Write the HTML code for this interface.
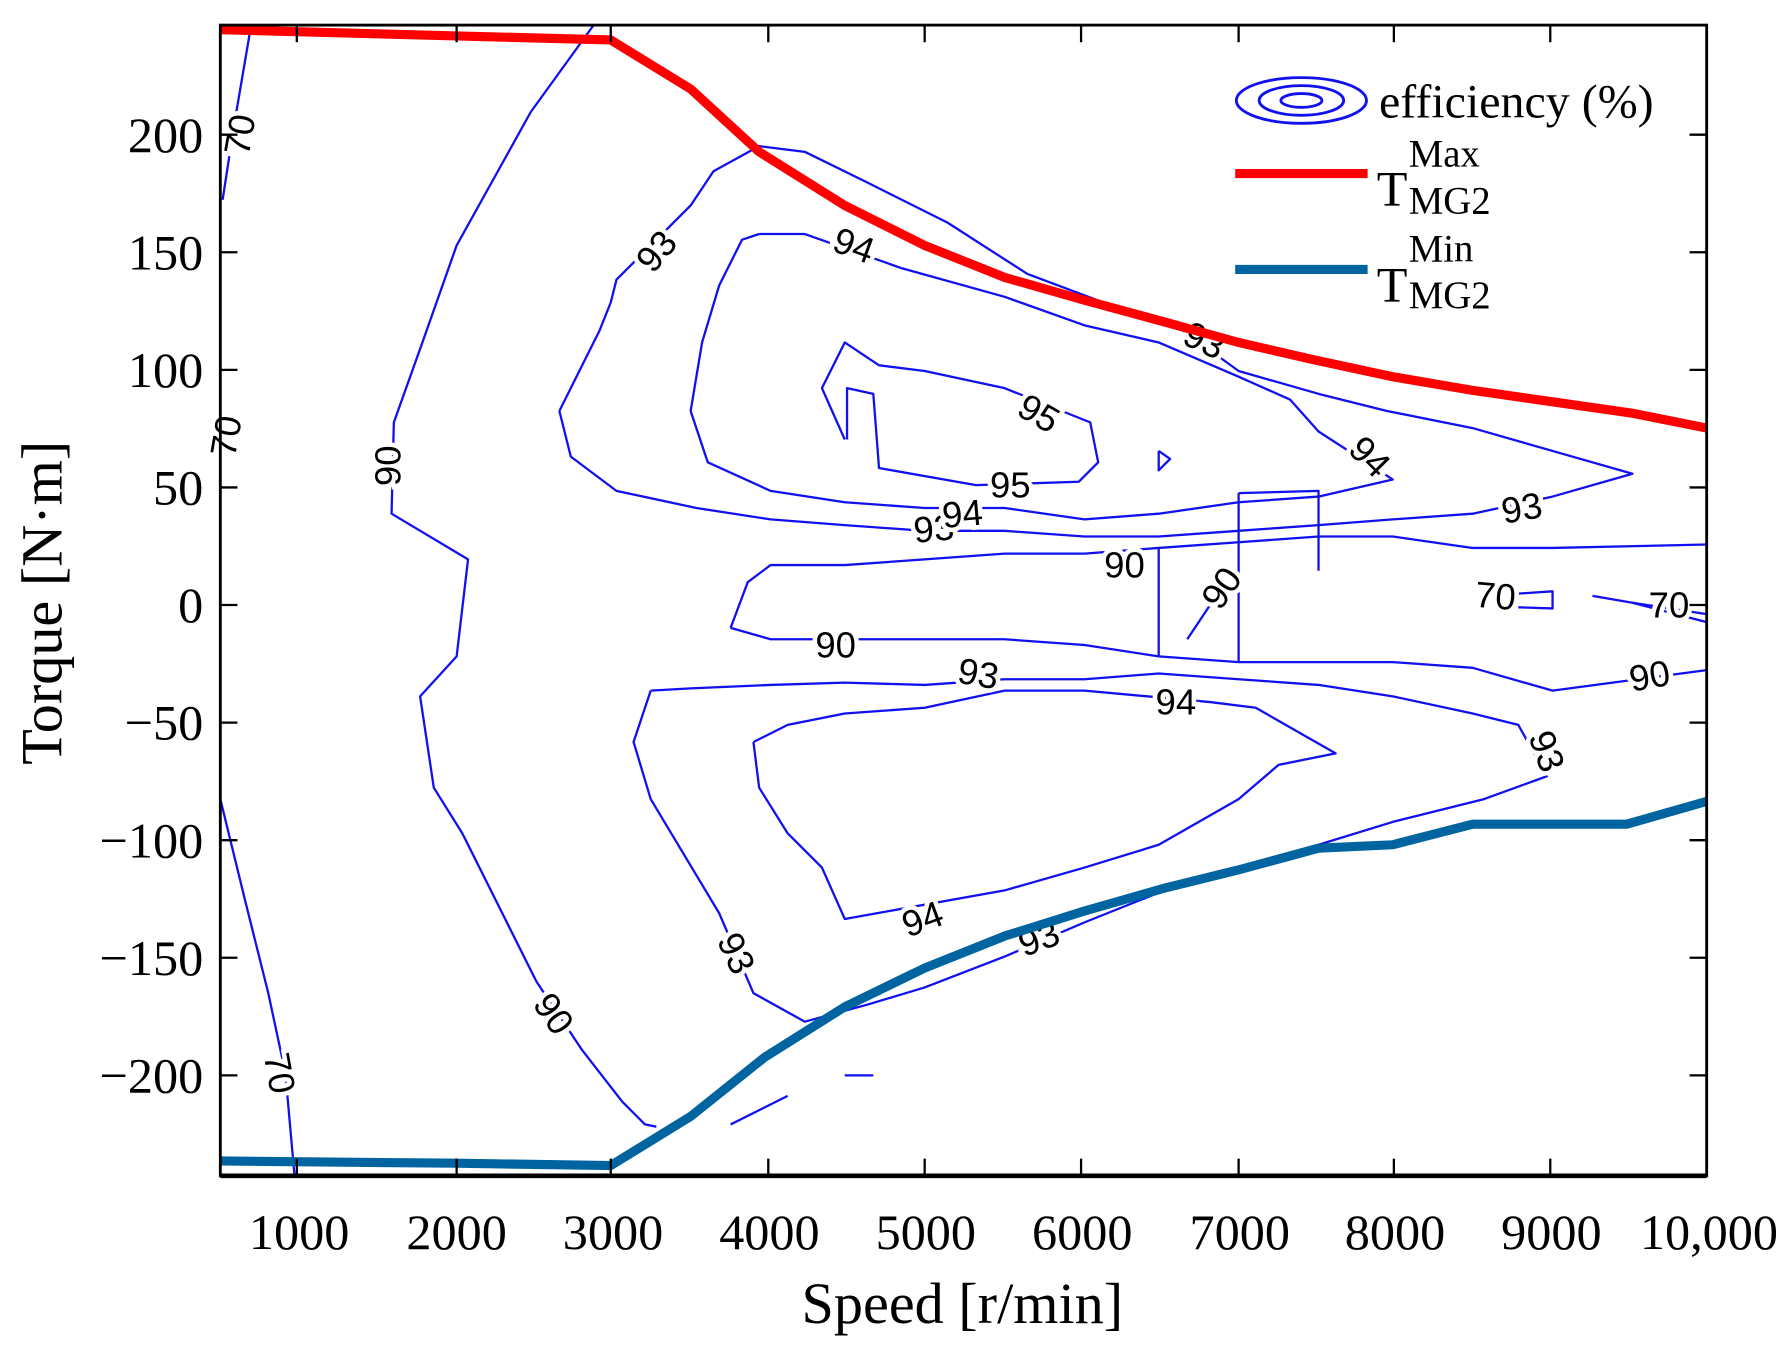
<!DOCTYPE html>
<html><head><meta charset="utf-8"><style>
html,body{margin:0;padding:0;background:#fff;}
svg{display:block;}
.tk{font-family:"Liberation Serif",serif;font-size:44px;fill:#000;}
.cl{font-family:"Liberation Sans",sans-serif;font-size:32px;fill:#000;}
.c{fill:none;stroke:#1010f0;stroke-width:2;stroke-linejoin:round;}
</style></head><body>
<svg width="1790" height="1350" viewBox="0 0 1568 1182.6" preserveAspectRatio="none" xmlns="http://www.w3.org/2000/svg">
<rect width="1568" height="1183" fill="#fff"/>
<polyline class="c" points="195,175 205,110 220,22"/>
<polyline class="c" points="193,700 215,790 235,870 250,940 258,1030"/>
<polyline class="c" points="520,22 465,98 400,215 370,300 345,370 343,450 410,490 400,575 368,610 380,690 405,730 440,800 470,860 510,920 545,965 565,985 575,987"/>
<polyline class="c" points="640,985 690,960"/>
<polyline class="c" points="740,942 765,942"/>
<polyline class="c" points="490,360 510,320 525,290 535,265 540,245 605,180 625,150 665,128 705,133 760,160 830,195 900,240 980,270 1030,285 1085,325 1155,345 1215,360 1290,375 1360,395 1430,415 1360,435 1290,450 1220,455 1155,460 1085,465 1015,470 950,470 880,465 810,465 740,460 675,455 610,445 540,430 500,400 490,360"/>
<polyline class="c" points="665,205 705,205 790,235 880,260 950,285 1015,300 1085,330 1130,350 1155,378 1220,420 1155,435 1085,440 1015,450 950,455 880,445 810,445 740,440 675,430 620,405 605,360 615,300 630,250 650,210 665,205"/>
<polyline class="c" points="740,385 720,340 740,300 770,320 810,325 880,340 955,370 962,405 945,422 855,425 770,410 765,345 742,340 742,385"/>
<polyline class="c" points="1015,395 1025,402 1015,412 1015,395"/>
<polyline class="c" points="640,550 655,510 675,495 740,495 810,490 880,485 950,485 1015,480 1085,475 1155,470 1220,470 1290,480 1360,480 1495,477"/>
<polyline class="c" points="640,550 675,560 810,560 880,560 950,565 1015,575 1085,580 1155,580 1220,580 1290,585 1360,605 1495,587"/>
<polyline class="c" points="1015,480 1015,575"/>
<polyline class="c" points="1085,432 1155,430 1155,500"/>
<polyline class="c" points="1085,432 1085,580"/>
<polyline class="c" points="1040,560 1060,530"/>
<polyline class="c" points="570,605 555,650 570,700 600,750 630,800 660,870 705,895 760,880 810,865 880,838 950,808 1020,780 1085,760 1155,740 1220,720 1300,700 1355,680 1330,635 1290,625 1220,610 1155,600 1085,595 1015,590 950,595 880,595 810,600 740,598 675,600 605,603 570,605"/>
<polyline class="c" points="660,650 665,690 690,730 720,760 740,805 880,780 950,760 1015,740 1085,700 1120,670 1170,660 1100,620 1060,615 950,605 880,605 810,620 740,625 690,635 660,650"/>
<polyline class="c" points="1330,520 1360,518 1360,533 1330,532"/>
<polyline class="c" points="1395,522 1430,528 1495,545"/>
<polyline class="c" points="1430,528 1495,538"/>
<g class="cl" text-anchor="middle">
<text x="0" y="11" transform="translate(210,118) rotate(-80)" stroke="#fff" stroke-width="8" paint-order="stroke">70</text>
<text x="0" y="11" transform="translate(198,382) rotate(-80)" stroke="#fff" stroke-width="8" paint-order="stroke">70</text>
<text x="0" y="11" transform="translate(245,940) rotate(80)" stroke="#fff" stroke-width="8" paint-order="stroke">70</text>
<text x="0" y="11" transform="translate(340,408) rotate(-90)" stroke="#fff" stroke-width="8" paint-order="stroke">90</text>
<text x="0" y="11" transform="translate(485,888) rotate(55)" stroke="#fff" stroke-width="8" paint-order="stroke">90</text>
<text x="0" y="11" transform="translate(575,220) rotate(-50)" stroke="#fff" stroke-width="8" paint-order="stroke">93</text>
<text x="0" y="11" transform="translate(1055,298) rotate(25)" stroke="#fff" stroke-width="8" paint-order="stroke">93</text>
<text x="0" y="11" transform="translate(1333,445) rotate(-10)" stroke="#fff" stroke-width="8" paint-order="stroke">93</text>
<text x="0" y="11" transform="translate(818,463) rotate(-5)" stroke="#fff" stroke-width="8" paint-order="stroke">93</text>
<text x="0" y="11" transform="translate(843,450) rotate(-5)" stroke="#fff" stroke-width="8" paint-order="stroke">94</text>
<text x="0" y="11" transform="translate(748,215) rotate(20)" stroke="#fff" stroke-width="8" paint-order="stroke">94</text>
<text x="0" y="11" transform="translate(1200,400) rotate(45)" stroke="#fff" stroke-width="8" paint-order="stroke">94</text>
<text x="0" y="11" transform="translate(910,362) rotate(30)" stroke="#fff" stroke-width="8" paint-order="stroke">95</text>
<text x="0" y="11" transform="translate(885,425)" stroke="#fff" stroke-width="8" paint-order="stroke">95</text>
<text x="0" y="11" transform="translate(985,495)" stroke="#fff" stroke-width="8" paint-order="stroke">90</text>
<text x="0" y="11" transform="translate(1070,515) rotate(-55)" stroke="#fff" stroke-width="8" paint-order="stroke">90</text>
<text x="0" y="11" transform="translate(732,565)" stroke="#fff" stroke-width="8" paint-order="stroke">90</text>
<text x="0" y="11" transform="translate(1445,592) rotate(-10)" stroke="#fff" stroke-width="8" paint-order="stroke">90</text>
<text x="0" y="11" transform="translate(1310,522) rotate(5)" stroke="#fff" stroke-width="8" paint-order="stroke">70</text>
<text x="0" y="11" transform="translate(1462,530)" stroke="#fff" stroke-width="8" paint-order="stroke">70</text>
<text x="0" y="11" transform="translate(857,590) rotate(10)" stroke="#fff" stroke-width="8" paint-order="stroke">93</text>
<text x="0" y="11" transform="translate(1030,615)" stroke="#fff" stroke-width="8" paint-order="stroke">94</text>
<text x="0" y="11" transform="translate(1355,658) rotate(70)" stroke="#fff" stroke-width="8" paint-order="stroke">93</text>
<text x="0" y="11" transform="translate(645,835) rotate(65)" stroke="#fff" stroke-width="8" paint-order="stroke">93</text>
<text x="0" y="11" transform="translate(808,805) rotate(-20)" stroke="#fff" stroke-width="8" paint-order="stroke">94</text>
<text x="0" y="11" transform="translate(910,822) rotate(-20)" stroke="#fff" stroke-width="8" paint-order="stroke">93</text>
</g>
<polyline fill="none" stroke="#ff0000" stroke-width="8" points="193,26 535,35 605,78 665,133 740,180 810,215 880,243 950,263 1020,282 1085,300 1150,315 1220,330 1290,342 1360,352 1430,362 1495,375"/>
<polyline fill="none" stroke="#0064a0" stroke-width="8" points="193,1017 400,1019 535,1021 605,978 670,926 740,882 810,848 880,820 950,798 1020,778 1085,762 1155,743 1220,740 1290,722 1425,722 1495,702"/>
<rect x="193" y="22" width="1302" height="1008" fill="none" stroke="#000" stroke-width="2.5"/>
<line x1="193" y1="1030" x2="1495" y2="1030" stroke="#000" stroke-width="4"/>
<g stroke="#000" stroke-width="2">
<path d="M260,1030v-15M400,1030v-15M535,1030v-15M673,1030v-15M810,1030v-15M947,1030v-15M1085,1030v-15M1221,1030v-15M1358,1030v-15"/>
<path d="M260,22v15M400,22v15M535,22v15M673,22v15M810,22v15M947,22v15M1085,22v15M1221,22v15M1358,22v15"/>
<path d="M193,118h15M193,221h15M193,324h15M193,427h15M193,530h15M193,633h15M193,736h15M193,839h15M193,942h15"/>
<path d="M1495,118h-15M1495,221h-15M1495,324h-15M1495,427h-15M1495,530h-15M1495,633h-15M1495,736h-15M1495,839h-15M1495,942h-15"/>
</g>
<g class="tk" text-anchor="end">
<text x="178" y="133">200</text><text x="178" y="236">150</text><text x="178" y="339">100</text>
<text x="178" y="442">50</text><text x="178" y="545">0</text><text x="178" y="648">−50</text>
<text x="178" y="751">−100</text><text x="178" y="854">−150</text><text x="178" y="957">−200</text>
</g>
<g class="tk" text-anchor="middle">
<text x="262" y="1094">1000</text><text x="400" y="1094">2000</text><text x="537" y="1094">3000</text>
<text x="674" y="1094">4000</text><text x="811" y="1094">5000</text><text x="948" y="1094">6000</text>
<text x="1086" y="1094">7000</text><text x="1222" y="1094">8000</text><text x="1359" y="1094">9000</text>
<text x="1497" y="1094">10,000</text>
</g>
<text x="843" y="1159" text-anchor="middle" style="font-family:'Liberation Serif',serif;font-size:51px">Speed [r/min]</text>
<text transform="translate(54,528) rotate(-90)" text-anchor="middle" style="font-family:'Liberation Serif',serif;font-size:51px">Torque [N·m]</text>
<g fill="none" stroke="#1010f0" stroke-width="2.5">
<ellipse cx="1140" cy="88" rx="57" ry="20"/><ellipse cx="1140" cy="88" rx="37" ry="13"/><ellipse cx="1140" cy="88" rx="18" ry="6"/>
</g>
<text x="1208" y="103" class="tk" style="font-size:42px">efficiency (%)</text>
<line x1="1082" y1="152" x2="1198" y2="152" stroke="#ff0000" stroke-width="8"/>
<text x="1206" y="180" class="tk" style="font-size:44px">T</text>
<text x="1234" y="146" class="tk" style="font-size:34px">Max</text>
<text x="1234" y="187" class="tk" style="font-size:34px">MG2</text>
<line x1="1082" y1="236" x2="1198" y2="236" stroke="#0064a0" stroke-width="8"/>
<text x="1206" y="264" class="tk" style="font-size:44px">T</text>
<text x="1234" y="229" class="tk" style="font-size:34px">Min</text>
<text x="1234" y="270" class="tk" style="font-size:34px">MG2</text>
</svg>
</body></html>
